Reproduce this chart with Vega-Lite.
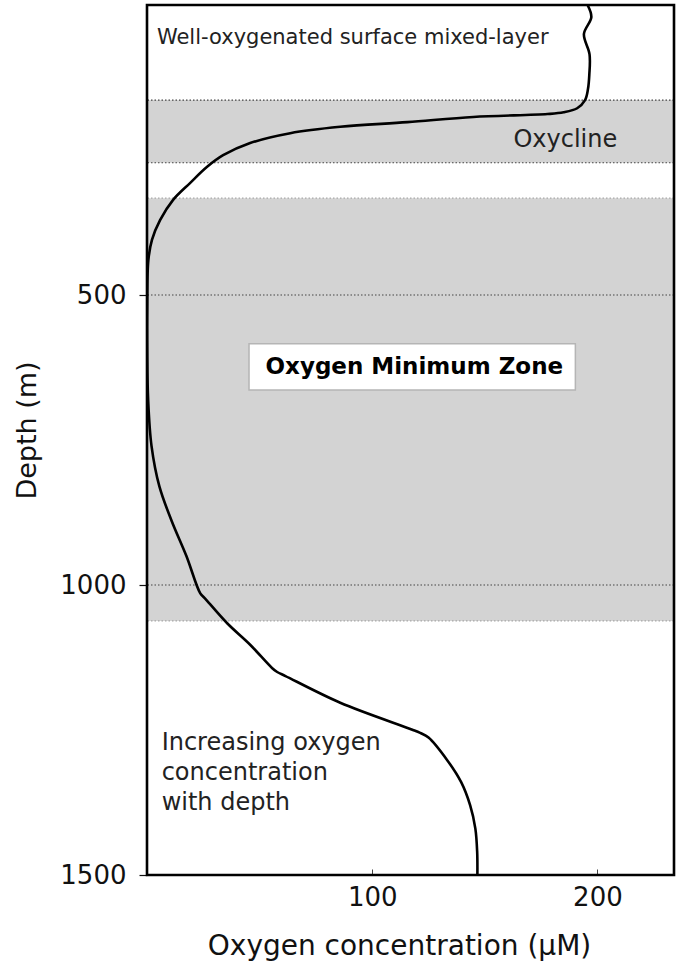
{
  "$schema": "https://vega.github.io/schema/vega-lite/v6.json",
  "width": 527,
  "height": 870,
  "autosize": {"type": "none"},
  "padding": {"left": 147, "top": 5, "right": 11, "bottom": 99},
  "background": "white",
  "config": {"view": {"stroke": null}, "font": "DejaVu Sans"},
  "datasets": {
    "profile": [
      {"o2": 195.6, "depth": 0},
      {"o2": 197.3, "depth": 21},
      {"o2": 194.0, "depth": 50},
      {"o2": 196.5, "depth": 85},
      {"o2": 196.4, "depth": 120},
      {"o2": 195.8, "depth": 145},
      {"o2": 194.5, "depth": 164},
      {"o2": 191.0, "depth": 178},
      {"o2": 185.0, "depth": 185},
      {"o2": 177.8, "depth": 188},
      {"o2": 144.9, "depth": 193},
      {"o2": 115.6, "depth": 202},
      {"o2": 85.8, "depth": 210},
      {"o2": 63.6, "depth": 221},
      {"o2": 45.8, "depth": 238},
      {"o2": 33.8, "depth": 259},
      {"o2": 26.7, "depth": 279},
      {"o2": 19.1, "depth": 307},
      {"o2": 11.6, "depth": 336},
      {"o2": 5.8, "depth": 371},
      {"o2": 2.2, "depth": 405},
      {"o2": 0.6, "depth": 440},
      {"o2": 0.1, "depth": 520},
      {"o2": 0.1, "depth": 600},
      {"o2": 0.5, "depth": 680},
      {"o2": 2.0, "depth": 760},
      {"o2": 5.5, "depth": 830},
      {"o2": 11.0, "depth": 890},
      {"o2": 17.5, "depth": 950},
      {"o2": 23.6, "depth": 1014},
      {"o2": 25.5, "depth": 1022},
      {"o2": 35.6, "depth": 1066},
      {"o2": 45.8, "depth": 1103},
      {"o2": 55.5, "depth": 1143},
      {"o2": 57.8, "depth": 1150},
      {"o2": 61.5, "depth": 1157},
      {"o2": 85.8, "depth": 1203},
      {"o2": 117.5, "depth": 1249},
      {"o2": 121.3, "depth": 1255},
      {"o2": 125.0, "depth": 1263},
      {"o2": 133.3, "depth": 1302},
      {"o2": 139.5, "depth": 1340},
      {"o2": 143.5, "depth": 1380},
      {"o2": 145.8, "depth": 1420},
      {"o2": 146.6, "depth": 1460},
      {"o2": 146.7, "depth": 1500}
    ],
    "bands": [
      {"zone": "Oxycline", "top": 164, "bottom": 272},
      {"zone": "OMZ", "top": 333, "bottom": 1062}
    ],
    "lines": [
      {"depth": 164, "kind": "dark"},
      {"depth": 272, "kind": "dark"},
      {"depth": 500, "kind": "dark"},
      {"depth": 1000, "kind": "dark"},
      {"depth": 333, "kind": "light"},
      {"depth": 1062, "kind": "light"}
    ],
    "labelbox": [
      {"x1": 45.3, "x2": 190.2, "y1": 584, "y2": 664, "text": "Oxygen Minimum Zone", "xc": 118.7, "yc": 624}
    ],
    "notes": [
      {"text": "Well-oxygenated surface mixed-layer", "x": 4.4, "y": 57, "size": "small"},
      {"text": "Oxycline", "x": 162.7, "y": 233, "size": "large"},
      {"text": "Increasing oxygen", "x": 6.5, "y": 1272, "size": "large"},
      {"text": "concentration", "x": 6.5, "y": 1324, "size": "large"},
      {"text": "with depth", "x": 6.5, "y": 1376, "size": "large"}
    ],
    "frame": [{"x1": 0, "x2": 234, "y1": 0, "y2": 1500}]
  },
  "layer": [
    {
      "data": {"name": "bands"},
      "mark": {"type": "rect", "color": "#d3d3d3"},
      "encoding": {
        "y": {"field": "top", "type": "quantitative", "scale": {"domain": [0, 1500], "reverse": true, "nice": false, "zero": false},
          "axis": {"values": [500, 1000, 1500], "format": "d", "title": "Depth (m)", "grid": false, "domain": false,
            "labelFont": "DejaVu Sans", "labelFontSize": 26, "labelColor": "#111", "labelPadding": 13,
            "tickSize": 8, "tickColor": "#111", "tickWidth": 1.2,
            "titleFont": "DejaVu Sans", "titleFontSize": 27, "titleFontWeight": "normal", "titleColor": "#111", "titlePadding": 18, "titleY": 425}},
        "y2": {"field": "bottom"},
        "x": {"datum": 0, "type": "quantitative", "scale": {"domain": [0, 234], "nice": false},
          "axis": {"values": [100, 200], "format": "d", "title": "Oxygen concentration (μM)", "grid": false, "domain": false,
            "labelFont": "DejaVu Sans", "labelFontSize": 26, "labelColor": "#111", "labelPadding": 15,
            "tickSize": -6, "tickColor": "#444", "tickWidth": 1,
            "titleFont": "DejaVu Sans", "titleFontSize": 28, "titleFontWeight": "normal", "titleColor": "#111", "titlePadding": 22, "titleX": 252}},
        "x2": {"datum": 234}
      }
    },
    {
      "data": {"name": "lines"},
      "mark": {"type": "rule", "strokeDash": [1.5, 2], "strokeWidth": 1.2},
      "encoding": {
        "y": {"field": "depth", "type": "quantitative"},
        "color": {"field": "kind", "type": "nominal", "scale": {"domain": ["dark", "light"], "range": ["#444444", "#a8a8a8"]}, "legend": null}
      }
    },
    {
      "data": {"name": "labelbox"},
      "mark": {"type": "rect", "fill": "white", "stroke": "#b5b5b5", "strokeWidth": 1.5},
      "encoding": {
        "x": {"field": "x1", "type": "quantitative"},
        "x2": {"field": "x2"},
        "y": {"field": "y1", "type": "quantitative"},
        "y2": {"field": "y2"}
      }
    },
    {
      "data": {"name": "labelbox"},
      "mark": {"type": "text", "font": "DejaVu Sans", "fontWeight": "bold", "fontSize": 23, "color": "black", "align": "center", "baseline": "middle"},
      "encoding": {
        "x": {"field": "xc", "type": "quantitative"},
        "y": {"field": "yc", "type": "quantitative"},
        "text": {"field": "text"}
      }
    },
    {
      "data": {"name": "notes"},
      "mark": {"type": "text", "font": "DejaVu Sans", "color": "#222", "align": "left", "baseline": "middle"},
      "encoding": {
        "x": {"field": "x", "type": "quantitative"},
        "y": {"field": "y", "type": "quantitative"},
        "text": {"field": "text"},
        "size": {"field": "size", "type": "nominal", "scale": {"domain": ["small", "large"], "range": [21, 24]}, "legend": null}
      }
    },
    {
      "data": {"name": "profile"},
      "mark": {"type": "line", "color": "black", "strokeWidth": 2.6, "clip": true, "interpolate": "catmull-rom", "strokeJoin": "round"},
      "encoding": {
        "x": {"field": "o2", "type": "quantitative"},
        "y": {"field": "depth", "type": "quantitative"},
        "order": {"field": "depth"}
      }
    },
    {
      "data": {"name": "frame"},
      "mark": {"type": "rect", "fillOpacity": 0, "stroke": "black", "strokeWidth": 2.6},
      "encoding": {
        "x": {"field": "x1", "type": "quantitative"},
        "x2": {"field": "x2"},
        "y": {"field": "y1", "type": "quantitative"},
        "y2": {"field": "y2"}
      }
    }
  ]
}
